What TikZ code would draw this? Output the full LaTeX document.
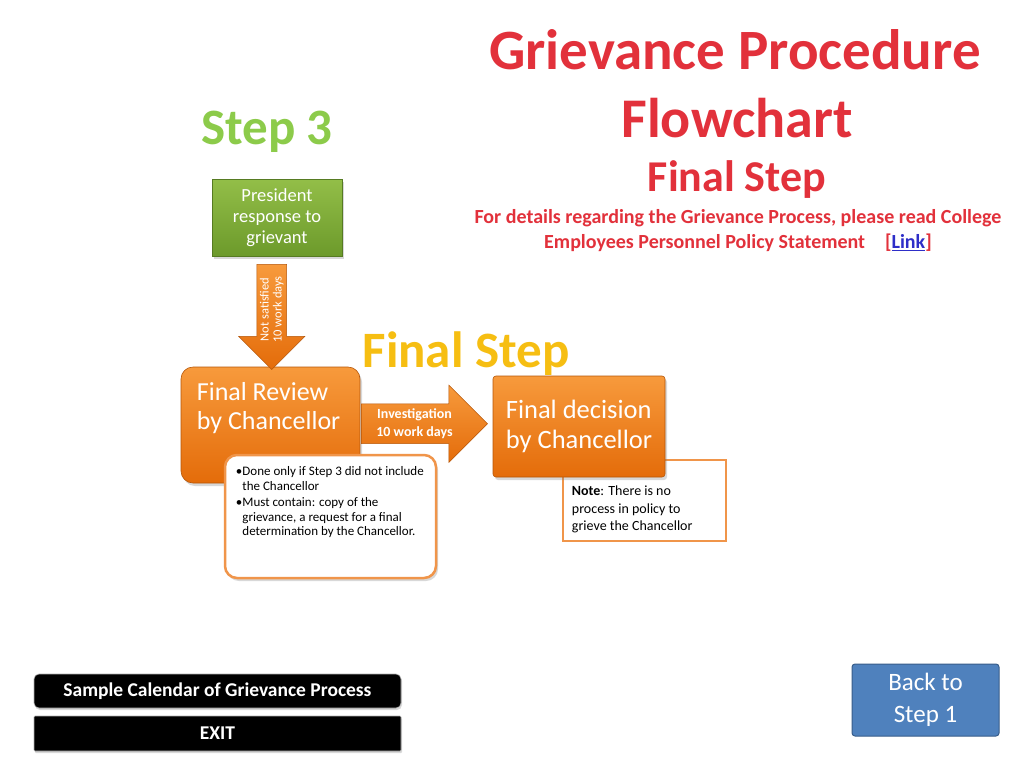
\documentclass[tikz,border=0pt]{standalone}
\usepackage{fontspec}
\setmainfont{Carlito}
\usetikzlibrary{calc,positioning,shapes.arrows,shadows}
\definecolor{titlered}{HTML}{E2313B}
\definecolor{stepgreen}{HTML}{8CCB4A}
\definecolor{stepgold}{HTML}{F6BE12}
\definecolor{orangetop}{HTML}{F79A3C}
\definecolor{orangebot}{HTML}{E46C0A}
\definecolor{orangeline}{HTML}{F0954A}
\definecolor{greentop}{HTML}{93BE48}
\definecolor{greenbot}{HTML}{6C9A2B}
\definecolor{btnblue}{HTML}{4F81BD}
\definecolor{btnline}{HTML}{385D8A}
\definecolor{linkblue}{HTML}{2E2EC8}

\tikzset{
  orangebox/.style={top color=orangetop, bottom color=orangebot, draw=orangebot!80!black, line width=.6pt,
    drop shadow={shadow xshift=2pt, shadow yshift=-3pt, opacity=.3}},
  whitebox/.style={fill=white, draw=orangeline, line width=2.5pt},
  blackbtn/.style={fill=black, draw=gray!60, line width=.6pt, minimum width=367pt, minimum height=34pt,
    text=white, font=\fontsize{19.5}{22}\selectfont\bfseries,
    drop shadow={shadow xshift=1pt, shadow yshift=-2pt, opacity=.3}},
  blockarrow/.style={single arrow, top color=orangetop, bottom color=orangebot, draw=orangebot!80!black,
    line width=.5pt, text=white, inner sep=2pt, align=center}
}

\begin{document}
\begin{tikzpicture}[x=1pt,y=-1pt]
  \useasboundingbox[fill=white] (0,0) rectangle (1024,768);

  % headings
  \node[text=titlered, font=\fontsize{57}{60}\selectfont\bfseries] (title1) at (735,50) {Grievance Procedure};
  \node[text=titlered, font=\fontsize{56}{60}\selectfont\bfseries] (title2) at (737,118) {Flowchart};
  \node[text=titlered, font=\fontsize{44}{48}\selectfont\bfseries] (title3) at (737,180) {Final Step};
  \node[text=titlered, font=\fontsize{20}{25}\selectfont\bfseries, align=center] (details) at (738,231)
    {For details regarding the Grievance Process, please read College\\
     Employees Personnel Policy Statement\hspace{1em}[\textcolor{linkblue}{\underline{Link}}]};
  \node[text=stepgreen, font=\fontsize{51}{54}\selectfont\bfseries] (step3) at (267,132) {Step 3};
  \node[text=stepgold, font=\fontsize{51}{54}\selectfont\bfseries] (finalstep) at (466,354) {Final Step};

  % step 3 box
  \node[top color=greentop, bottom color=greenbot, draw=greenbot!80!black, line width=.6pt,
    minimum width=130pt, minimum height=77pt, text=white, align=center,
    font=\fontsize{18.5}{21}\selectfont,
    drop shadow={shadow xshift=2pt, shadow yshift=-3pt, opacity=.3}] (pres) at (277,217.5)
    {President\\response to\\grievant};

  % final review
  \node[orangebox, rounded corners=12pt, minimum width=179pt, minimum height=116pt] (review) at (270.5,425) {};
  \node[anchor=north west, text=white, align=left, font=\fontsize{26}{29}\selectfont, inner sep=0pt]
    (reviewtxt) at ($(review.north west)+(16,16)$) {Final Review\\by Chancellor};

  \node[blockarrow, rotate=90, shape border rotate=180, minimum height=105pt, minimum width=66pt,
    single arrow head extend=17pt, font=\fontsize{12.5}{13}\selectfont]
    (down) at ($(pres.south)!.5!(review.north)+(-2,-2)$) {Not satisfied\\10 work days};

  % bullets under the review box
  \node[whitebox, rounded corners=12pt, minimum width=211pt, minimum height=123pt,
    drop shadow={shadow xshift=2pt, shadow yshift=-3pt, opacity=.3}] (bullets) at (330.5,516.5) {};
  \node[anchor=north west, align=left, inner sep=0pt, font=\fontsize{13}{14.5}\selectfont]
    (bullettxt) at ($(bullets.north west)+(12,13)$)
    {•Done only if Step 3 did not include\\
     \phantom{•}the Chancellor\\[2pt]
     •Must contain: copy of the\\
     \phantom{•}grievance, a request for a final\\
     \phantom{•}determination by the Chancellor.};

  % final decision
  \node[whitebox, minimum width=163pt, minimum height=81pt] (note) at (644.5,500.5) {};
  \node[anchor=north west, align=left, inner sep=0pt, font=\fontsize{14}{17.5}\selectfont]
    (notetxt) at ($(note.north west)+(10,27)$)
    {\textbf{Note}: There is no\\process in policy to\\grieve the Chancellor};
  \node[orangebox, rounded corners=3pt, minimum width=172pt, minimum height=101pt, text=white,
    align=left, font=\fontsize{26.5}{30}\selectfont] (decision) at (579,426.5)
    {Final decision\\by Chancellor};

  \node[blockarrow, minimum height=126pt, minimum width=77pt, single arrow head extend=16pt,
    font=\fontsize{14}{18}\selectfont\bfseries]
    (right) at ($(review.east)!.5!(decision.west)+(-12,-2)$) {Investigation\\10 work days};

  % buttons
  \node[blackbtn, rounded corners=5pt] (calendar) at (217.5,691) {Sample Calendar of Grievance Process};
  \node[blackbtn, rounded corners=1pt, minimum height=35pt] (exit) at (217.5,733.5) {EXIT};
  \node[fill=btnblue, draw=btnline, line width=1pt, rounded corners=3pt, minimum width=147pt,
    minimum height=72pt, text=white, align=center, font=\fontsize{25}{32}\selectfont] (back) at (925.5,700)
    {Back to\\Step 1};
\end{tikzpicture}
\end{document}
